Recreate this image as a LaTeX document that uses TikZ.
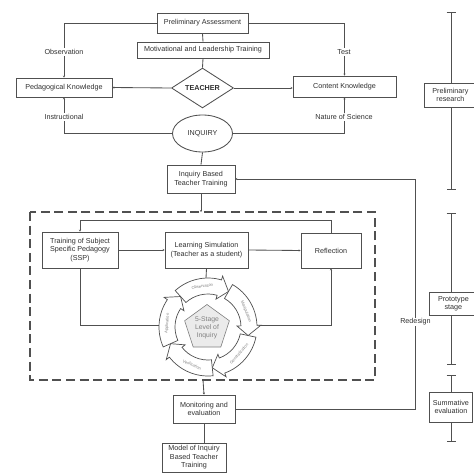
\documentclass[tikz,border=0pt]{standalone}
\usepackage{fontspec}
\setmainfont{Liberation Sans}
\usetikzlibrary{shapes.geometric,arrows.meta}
\definecolor{ln}{HTML}{505050}
\definecolor{tx}{HTML}{303030}
\definecolor{cyc}{HTML}{808080}
\tikzset{
  box/.style={draw=ln, line width=0.85pt, fill=white, text=tx, align=center, inner sep=1pt, font=\fontsize{7.2}{8.4}\selectfont},
  lbl/.style={fill=white, text=tx, inner sep=1pt, font=\fontsize{7.2}{8.4}\selectfont},
  conn/.style={draw=ln, line width=0.85pt},
  tip/.style={conn, -{Stealth[length=2pt,width=2.2pt]}},
  phase/.style={draw=ln, line width=0.85pt, {Bar[width=9pt]}-{Bar[width=9pt]}},
  cycarrow/.style={draw=ln, line width=0.7pt, fill=white},
  cyctext/.style={text=cyc, font=\fontsize{4}{4.5}\selectfont, inner sep=0pt}
}
\begin{document}
\begin{tikzpicture}[x=1pt,y=-1pt]
\useasboundingbox (0,0) rectangle (474,474);

% top block
\node[box, minimum width=91, minimum height=20] (pa) at (202.5,23) {Preliminary Assessment};
\node[box, minimum width=132, minimum height=16] (mlt) at (203,50) {Motivational and Leadership Training};
\node[box, diamond, minimum width=62, minimum height=36, inner sep=0pt, font=\fontsize{7.2}{8.4}\selectfont\bfseries] (teacher) at (202.5,88) {TEACHER};
\node[box, minimum width=96, minimum height=19] (pk) at (64,87.5) {Pedagogical Knowledge};
\node[box, minimum width=103, minimum height=21] (ck) at (344.5,86.5) {Content Knowledge};
\node[box, ellipse, minimum width=60, minimum height=37] (inq) at (202.5,133.5) {INQUIRY};
\node[box, minimum width=68, minimum height=28] (ibtt) at (201,179) {Inquiry Based\\Teacher Training};

\draw[conn] (pa.south) -- (mlt.north);
\draw[conn] (mlt.south) -- (teacher.north);
\draw[tip] (pa.west) -| (pk.north);
\draw[tip] (pa.east) -| (ck.north);
\draw[tip] (teacher.west) -- (pk.east);
\draw[tip] (teacher.east) -- (teacher.east -| ck.west);
\draw[tip] (inq.west) -| (pk.south);
\draw[tip] (inq.east) -| (ck.south);
\draw[conn] (inq.south) -- (ibtt.north);
\node[lbl] (lobs) at (64,52) {Observation};
\node[lbl] (ltest) at (344,52) {Test};
\node[lbl] (linstr) at (64,117) {Instructional};
\node[lbl] (lnos) at (344,117) {Nature of Science};

% dashed frame
\draw[draw=ln, line width=1.1pt, dash pattern=on 9pt off 4.6pt] (30,212) rectangle (375,380);
\coordinate (dtop) at (201,212);
\coordinate (dbot) at (203,380);
\draw[tip] (ibtt.south) -- (dtop);

\node[box, minimum width=76, minimum height=36] (ssp) at (80,250) {Training of Subject\\Specific Pedagogy\\(SSP)};
\node[box, minimum width=83, minimum height=36] (ls) at (206.5,250) {Learning Simulation\\(Teacher as a student)};
\node[box, minimum width=60, minimum height=35] (refl) at (331,250.5) {Reflection};

\coordinate (cc) at (208,327);
\coordinate (ringtop) at (206,278);
\coordinate (ringleft) at (159,325);
\coordinate (ringright) at (257,325);
\draw[tip] (refl.north) -- ++(0,-12) -| (ssp.north);
\draw[tip] (ssp.east) -- (ls.west);
\draw[tip] (ls.east) -- (refl.west);
\draw[conn] (ls.south) -- (ringtop);
\draw[conn] (ssp.south) |- (ringleft);
\draw[tip] (ringright) -| (refl.south);

% cycle of five block arrows
\begin{scope}[shift={(cc)}]
  \foreach \s in {-132,-60,12,84,156}{
    \pgfmathsetmacro{\b}{\s+58}
    \pgfmathsetmacro{\t}{\s+72}
    \draw[cycarrow] (\s:33) arc[start angle=\s, end angle=\b, radius=33]
      -- (\b:29) -- (\t:41) -- (\b:53) -- (\b:49)
      arc[start angle=\b, end angle=\s, radius=49] -- cycle;
  }
  \node[cyctext, rotate=8] (tobs) at (-98:41) {Observation};
  \node[cyctext, rotate=-68] (tman) at (-22:41) {Manipulation};
  \node[cyctext, rotate=49] (tgen) at (41:41) {Generalization};
  \node[cyctext, rotate=-23] (tver) at (113:41) {Verification};
  \node[cyctext, rotate=85] (tapp) at (185:41) {Application};
  \node[regular polygon, regular polygon sides=5, minimum size=47, draw=cyc, line width=0.6pt, fill=black!8, inner sep=0pt] (pent) at (-1,1) {};
  \node[text=cyc, align=center, font=\fontsize{6.8}{7.8}\selectfont] (ptext) at (-1,1) {5-Stage\\Level of\\Inquiry};
\end{scope}

% bottom
\node[box, minimum width=62, minimum height=28] (mon) at (204,409) {Monitoring and\\evaluation};
\node[box, minimum width=64, minimum height=29] (model) at (194,457.5) {Model of Inquiry\\Based Teacher\\Training};
\draw[tip] (dbot) -- (mon.north);
\draw[conn] (mon.south) -- (mon.south |- model.north);
\coordinate (rdc) at (415,409);
\draw[tip] (mon.east) -- (rdc) |- (ibtt.east);
\node[lbl] (lred) at (415.5,322) {Redesign};

% phases on right
\draw[phase] (451,12) -- (451,190);
\draw[phase] (451,213) -- (451,365);
\draw[phase] (451,375) -- (451,442);
\node[box, minimum width=52, minimum height=24, anchor=west] (pr) at (424,95) {Preliminary\\research};
\node[box, minimum width=48, minimum height=23, anchor=west] (ps) at (429,303.5) {Prototype\\stage};
\node[box, minimum width=43, minimum height=30, anchor=west] (se) at (429,407) {Summative\\evaluation};
\end{tikzpicture}
\end{document}
